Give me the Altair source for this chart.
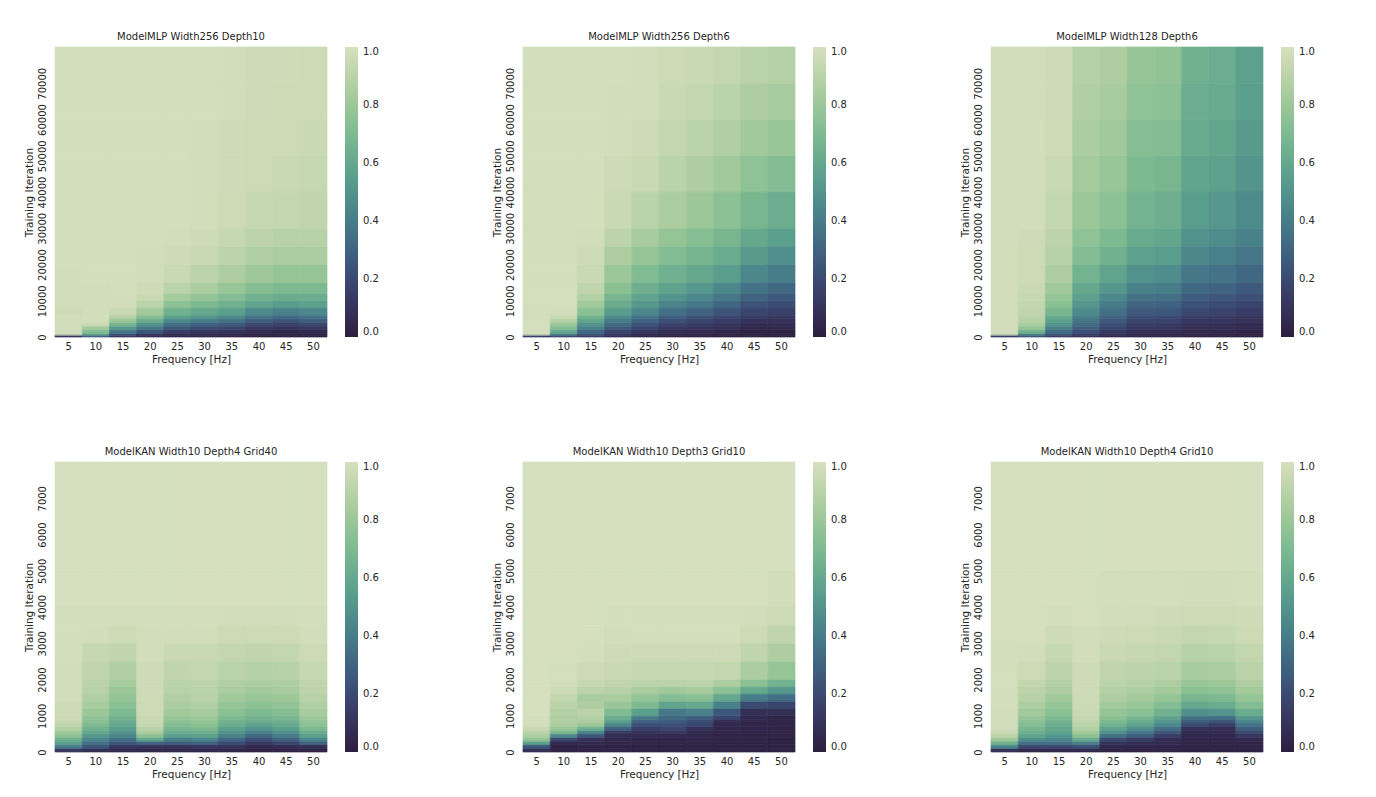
import math
import altair as alt
import pandas as pd

FREQS = [5, 10, 15, 20, 25, 30, 35, 40, 45, 50]

MLP_ITERS = [0, 500, 1000, 2000, 3000, 4000, 5000, 6000, 8000, 10000, 12000,
             15000, 20000, 25000, 30000, 40000, 50000, 60000, 70000, 80000]
KAN_ITERS = [0, 100, 200, 300, 400, 500, 600, 700, 800, 900, 1000, 1200,
             1400, 1600, 1800, 2000, 2500, 3000, 3500, 4000, 5000, 8000]

MLP_YTICKS = [0, 10000, 20000, 30000, 40000, 50000, 60000, 70000]
KAN_YTICKS = [0, 1000, 2000, 3000, 4000, 5000, 6000, 7000]
CBAR_TICKS = [0.0, 0.2, 0.4, 0.6, 0.8, 1.0]

TITLES = [
    "ModelMLP Width256 Depth10",
    "ModelMLP Width256 Depth6",
    "ModelMLP Width128 Depth6",
    "ModelKAN Width10 Depth4 Grid40",
    "ModelKAN Width10 Depth3 Grid10",
    "ModelKAN Width10 Depth4 Grid10",
]

# values per frequency (rows) and iteration interval (columns)
MLP_W256_D10 = [
    [0.10, 0.98, 0.98, 0.98, 0.98, 0.98, 0.98, 0.97, 0.98, 0.98, 0.98, 0.98, 0.99, 0.99, 0.99, 0.99, 0.99, 0.99, 0.99],
    [0.30, 0.60, 0.72, 0.82, 0.96, 0.98, 0.98, 0.98, 0.98, 0.98, 0.98, 0.99, 0.99, 0.99, 0.99, 0.99, 0.99, 0.99, 0.99],
    [0.12, 0.25, 0.38, 0.52, 0.68, 0.80, 0.88, 0.95, 0.98, 0.98, 0.99, 0.99, 0.99, 0.99, 0.99, 0.99, 0.99, 0.99, 0.99],
    [0.08, 0.12, 0.25, 0.38, 0.50, 0.62, 0.72, 0.82, 0.90, 0.95, 0.97, 0.98, 0.98, 0.99, 0.99, 0.99, 0.99, 0.99, 0.99],
    [0.05, 0.08, 0.15, 0.25, 0.35, 0.45, 0.55, 0.65, 0.75, 0.83, 0.90, 0.95, 0.97, 0.98, 0.99, 0.99, 0.99, 0.99, 0.99],
    [0.05, 0.07, 0.12, 0.20, 0.30, 0.40, 0.50, 0.60, 0.70, 0.78, 0.85, 0.91, 0.95, 0.97, 0.98, 0.98, 0.98, 0.99, 0.99],
    [0.03, 0.05, 0.10, 0.18, 0.27, 0.36, 0.45, 0.55, 0.65, 0.72, 0.79, 0.86, 0.91, 0.94, 0.96, 0.97, 0.97, 0.98, 0.98],
    [0.02, 0.03, 0.07, 0.12, 0.20, 0.28, 0.36, 0.46, 0.58, 0.65, 0.73, 0.81, 0.87, 0.91, 0.94, 0.96, 0.96, 0.97, 0.97],
    [0.02, 0.03, 0.05, 0.10, 0.17, 0.24, 0.32, 0.42, 0.54, 0.62, 0.70, 0.78, 0.85, 0.89, 0.93, 0.95, 0.96, 0.96, 0.97],
    [0.02, 0.03, 0.06, 0.12, 0.20, 0.28, 0.35, 0.45, 0.56, 0.63, 0.70, 0.78, 0.85, 0.89, 0.92, 0.94, 0.95, 0.96, 0.96],
]
MLP_W256_D6 = [
    [0.15, 0.99, 0.99, 0.99, 0.99, 0.99, 0.99, 0.99, 0.99, 0.99, 0.99, 0.99, 0.99, 0.99, 0.99, 0.99, 0.99, 0.99, 0.99],
    [0.20, 0.45, 0.60, 0.72, 0.80, 0.88, 0.94, 0.98, 0.99, 0.99, 0.99, 0.99, 0.99, 0.99, 0.99, 0.99, 0.99, 0.99, 0.99],
    [0.15, 0.25, 0.32, 0.42, 0.50, 0.58, 0.65, 0.74, 0.82, 0.88, 0.92, 0.95, 0.97, 0.98, 0.99, 0.99, 0.99, 0.99, 0.99],
    [0.08, 0.12, 0.18, 0.26, 0.33, 0.40, 0.46, 0.54, 0.62, 0.68, 0.74, 0.80, 0.86, 0.91, 0.95, 0.97, 0.98, 0.98, 0.99],
    [0.05, 0.07, 0.12, 0.18, 0.24, 0.30, 0.36, 0.44, 0.52, 0.58, 0.64, 0.71, 0.78, 0.84, 0.90, 0.95, 0.97, 0.98, 0.98],
    [0.03, 0.05, 0.08, 0.12, 0.17, 0.22, 0.27, 0.35, 0.43, 0.50, 0.57, 0.65, 0.72, 0.78, 0.85, 0.90, 0.93, 0.95, 0.96],
    [0.03, 0.04, 0.07, 0.10, 0.14, 0.18, 0.22, 0.30, 0.38, 0.45, 0.52, 0.60, 0.67, 0.73, 0.80, 0.86, 0.90, 0.93, 0.95],
    [0.02, 0.03, 0.05, 0.08, 0.11, 0.14, 0.18, 0.24, 0.31, 0.38, 0.45, 0.54, 0.62, 0.68, 0.75, 0.82, 0.87, 0.90, 0.93],
    [0.02, 0.02, 0.03, 0.05, 0.07, 0.10, 0.13, 0.18, 0.24, 0.30, 0.36, 0.45, 0.53, 0.60, 0.68, 0.76, 0.82, 0.86, 0.90],
    [0.02, 0.02, 0.03, 0.05, 0.07, 0.09, 0.12, 0.16, 0.21, 0.26, 0.32, 0.40, 0.48, 0.55, 0.63, 0.72, 0.79, 0.84, 0.88],
]
MLP_W128_D6 = [
    [0.15, 0.98, 0.98, 0.98, 0.98, 0.98, 0.98, 0.98, 0.98, 0.98, 0.98, 0.98, 0.98, 0.98, 0.98, 0.98, 0.98, 0.98, 0.98],
    [0.25, 0.45, 0.65, 0.78, 0.85, 0.88, 0.90, 0.92, 0.93, 0.94, 0.95, 0.96, 0.96, 0.97, 0.98, 0.98, 0.98, 0.98, 0.98],
    [0.15, 0.25, 0.33, 0.42, 0.50, 0.56, 0.61, 0.68, 0.74, 0.78, 0.82, 0.86, 0.89, 0.91, 0.93, 0.95, 0.96, 0.97, 0.97],
    [0.10, 0.15, 0.22, 0.28, 0.33, 0.37, 0.41, 0.46, 0.51, 0.55, 0.60, 0.66, 0.72, 0.76, 0.80, 0.83, 0.85, 0.87, 0.88],
    [0.06, 0.10, 0.14, 0.18, 0.22, 0.26, 0.30, 0.35, 0.40, 0.45, 0.51, 0.58, 0.65, 0.70, 0.75, 0.79, 0.82, 0.84, 0.86],
    [0.04, 0.06, 0.09, 0.12, 0.15, 0.18, 0.21, 0.26, 0.31, 0.36, 0.42, 0.49, 0.56, 0.61, 0.66, 0.70, 0.73, 0.76, 0.78],
    [0.04, 0.05, 0.08, 0.11, 0.14, 0.17, 0.20, 0.25, 0.30, 0.35, 0.40, 0.47, 0.54, 0.59, 0.64, 0.68, 0.72, 0.75, 0.77],
    [0.03, 0.04, 0.06, 0.08, 0.10, 0.12, 0.15, 0.19, 0.23, 0.27, 0.32, 0.38, 0.44, 0.49, 0.54, 0.58, 0.61, 0.63, 0.65],
    [0.03, 0.03, 0.05, 0.07, 0.09, 0.11, 0.13, 0.17, 0.21, 0.25, 0.30, 0.36, 0.42, 0.47, 0.52, 0.56, 0.59, 0.61, 0.63],
    [0.02, 0.03, 0.04, 0.06, 0.07, 0.09, 0.11, 0.14, 0.18, 0.22, 0.26, 0.32, 0.37, 0.42, 0.46, 0.50, 0.53, 0.55, 0.56],
]
KAN_W10_D4_G40 = [
    [0.12, 0.40, 0.55, 0.65, 0.75, 0.82, 0.88, 0.92, 0.95, 0.97, 0.97, 0.97, 0.98, 0.98, 0.98, 0.98, 0.99, 0.99, 0.99, 1.00, 1.00],
    [0.08, 0.25, 0.35, 0.45, 0.52, 0.60, 0.65, 0.70, 0.74, 0.77, 0.80, 0.84, 0.87, 0.89, 0.90, 0.92, 0.94, 0.98, 0.99, 1.00, 1.00],
    [0.05, 0.12, 0.25, 0.35, 0.45, 0.50, 0.55, 0.60, 0.63, 0.66, 0.70, 0.74, 0.78, 0.80, 0.83, 0.87, 0.92, 0.96, 0.99, 1.00, 1.00],
    [0.05, 0.10, 0.30, 0.60, 0.75, 0.85, 0.90, 0.93, 0.95, 0.95, 0.96, 0.96, 0.97, 0.97, 0.97, 0.97, 0.98, 0.98, 0.99, 1.00, 1.00],
    [0.05, 0.10, 0.28, 0.42, 0.55, 0.63, 0.68, 0.72, 0.76, 0.79, 0.82, 0.85, 0.87, 0.89, 0.90, 0.92, 0.95, 0.98, 0.99, 1.00, 1.00],
    [0.05, 0.12, 0.30, 0.45, 0.56, 0.64, 0.70, 0.74, 0.78, 0.81, 0.84, 0.87, 0.89, 0.90, 0.91, 0.93, 0.95, 0.98, 0.99, 1.00, 1.00],
    [0.05, 0.10, 0.20, 0.32, 0.42, 0.50, 0.56, 0.62, 0.66, 0.70, 0.74, 0.78, 0.82, 0.85, 0.87, 0.90, 0.93, 0.96, 0.98, 1.00, 1.00],
    [0.03, 0.05, 0.12, 0.22, 0.32, 0.42, 0.50, 0.56, 0.62, 0.66, 0.70, 0.75, 0.79, 0.82, 0.85, 0.88, 0.92, 0.96, 0.98, 1.00, 1.00],
    [0.03, 0.07, 0.18, 0.30, 0.40, 0.48, 0.55, 0.60, 0.65, 0.69, 0.73, 0.77, 0.81, 0.84, 0.86, 0.89, 0.93, 0.96, 0.98, 1.00, 1.00],
    [0.03, 0.08, 0.30, 0.45, 0.55, 0.62, 0.70, 0.75, 0.78, 0.81, 0.84, 0.87, 0.89, 0.91, 0.92, 0.94, 0.96, 0.98, 0.99, 1.00, 1.00],
]
KAN_W10_D3_G10 = [
    [0.08, 0.25, 0.55, 0.78, 0.85, 0.90, 0.95, 0.98, 0.99, 1.00, 1.00, 1.00, 1.00, 1.00, 1.00, 1.00, 1.00, 1.00, 1.00, 1.00, 1.00],
    [0.03, 0.03, 0.05, 0.20, 0.45, 0.70, 0.80, 0.85, 0.87, 0.86, 0.88, 0.90, 0.93, 0.96, 0.98, 0.99, 1.00, 1.00, 1.00, 1.00, 1.00],
    [0.03, 0.04, 0.05, 0.10, 0.25, 0.45, 0.65, 0.80, 0.86, 0.88, 0.90, 0.86, 0.84, 0.90, 0.94, 0.97, 0.99, 1.00, 1.00, 1.00, 1.00],
    [0.03, 0.03, 0.04, 0.05, 0.07, 0.15, 0.30, 0.45, 0.56, 0.63, 0.71, 0.79, 0.85, 0.89, 0.92, 0.95, 0.97, 0.98, 0.99, 1.00, 1.00],
    [0.02, 0.02, 0.03, 0.04, 0.06, 0.10, 0.15, 0.22, 0.30, 0.40, 0.55, 0.70, 0.78, 0.85, 0.90, 0.94, 0.97, 0.99, 0.99, 1.00, 1.00],
    [0.02, 0.02, 0.03, 0.04, 0.06, 0.12, 0.18, 0.22, 0.28, 0.32, 0.38, 0.58, 0.72, 0.82, 0.90, 0.94, 0.97, 0.99, 0.99, 1.00, 1.00],
    [0.02, 0.02, 0.03, 0.04, 0.05, 0.06, 0.10, 0.18, 0.22, 0.28, 0.42, 0.60, 0.74, 0.84, 0.90, 0.94, 0.97, 0.99, 0.99, 1.00, 1.00],
    [0.02, 0.02, 0.02, 0.03, 0.03, 0.04, 0.05, 0.06, 0.08, 0.18, 0.25, 0.42, 0.60, 0.75, 0.86, 0.93, 0.97, 0.99, 0.99, 1.00, 1.00],
    [0.02, 0.02, 0.02, 0.03, 0.03, 0.03, 0.04, 0.04, 0.05, 0.06, 0.08, 0.20, 0.40, 0.60, 0.75, 0.85, 0.92, 0.96, 0.98, 1.00, 1.00],
    [0.02, 0.02, 0.02, 0.02, 0.03, 0.03, 0.03, 0.04, 0.04, 0.04, 0.08, 0.18, 0.35, 0.52, 0.66, 0.78, 0.86, 0.92, 0.96, 0.98, 1.00],
]
KAN_W10_D4_G10 = [
    [0.10, 0.45, 0.65, 0.82, 0.90, 0.95, 0.98, 0.98, 0.98, 0.98, 0.98, 0.99, 0.99, 0.99, 0.99, 0.99, 0.99, 1.00, 1.00, 1.00, 1.00],
    [0.05, 0.20, 0.35, 0.48, 0.58, 0.64, 0.68, 0.72, 0.75, 0.78, 0.82, 0.86, 0.89, 0.91, 0.93, 0.96, 0.98, 1.00, 1.00, 1.00, 1.00],
    [0.05, 0.20, 0.35, 0.45, 0.52, 0.57, 0.60, 0.63, 0.66, 0.70, 0.74, 0.78, 0.82, 0.86, 0.88, 0.91, 0.94, 0.97, 0.99, 1.00, 1.00],
    [0.05, 0.22, 0.42, 0.62, 0.75, 0.83, 0.88, 0.90, 0.92, 0.94, 0.95, 0.96, 0.96, 0.97, 0.97, 0.97, 0.98, 0.98, 1.00, 1.00, 1.00],
    [0.03, 0.05, 0.10, 0.20, 0.35, 0.48, 0.58, 0.65, 0.70, 0.74, 0.78, 0.82, 0.86, 0.88, 0.90, 0.92, 0.95, 0.97, 0.98, 0.99, 1.00],
    [0.03, 0.05, 0.08, 0.15, 0.28, 0.38, 0.48, 0.56, 0.63, 0.68, 0.74, 0.79, 0.83, 0.86, 0.89, 0.91, 0.94, 0.96, 0.98, 0.99, 1.00],
    [0.03, 0.04, 0.06, 0.08, 0.15, 0.25, 0.35, 0.45, 0.52, 0.58, 0.65, 0.72, 0.78, 0.83, 0.86, 0.90, 0.93, 0.95, 0.97, 0.99, 1.00],
    [0.02, 0.03, 0.03, 0.04, 0.05, 0.06, 0.10, 0.20, 0.28, 0.36, 0.48, 0.60, 0.68, 0.74, 0.79, 0.84, 0.89, 0.93, 0.96, 0.98, 1.00],
    [0.02, 0.03, 0.03, 0.04, 0.05, 0.06, 0.08, 0.15, 0.25, 0.35, 0.50, 0.62, 0.70, 0.76, 0.80, 0.85, 0.90, 0.94, 0.96, 0.98, 1.00],
    [0.02, 0.03, 0.03, 0.06, 0.12, 0.20, 0.28, 0.36, 0.45, 0.52, 0.62, 0.72, 0.78, 0.83, 0.86, 0.90, 0.93, 0.96, 0.97, 0.99, 1.00],
]


def cubehelix_hex(v, start=0.5, rot=-0.75, hue=0.8, dark=0.15, light=0.85):
    x = dark + (light - dark) * v
    phi = 2 * math.pi * (start / 3 + rot * x)
    a = hue * x * (1 - x) / 2
    r = x + a * (-0.14861 * math.cos(phi) + 1.78277 * math.sin(phi))
    g = x + a * (-0.29227 * math.cos(phi) - 0.90649 * math.sin(phi))
    b = x + a * (1.97294 * math.cos(phi))
    to = lambda c: max(0, min(255, int(round(c * 255))))
    return "#{:02x}{:02x}{:02x}".format(to(r), to(g), to(b))


CMAP = [cubehelix_hex(i / 20) for i in range(21)]
FONT = "DejaVu Sans"
TXT = "#262626"


def panel(title, values, iters, ymax, yticks):
    rows = []
    for fi, f in enumerate(FREQS):
        for k in range(len(iters) - 1):
            rows.append({"freq": f, "it0": iters[k], "it1": iters[k + 1], "v": values[fi][k]})
    df = pd.DataFrame(rows)
    cscale = alt.Scale(domain=[0, 1], range=CMAP, interpolate="rgb")
    xenc = alt.X("freq:O", sort=FREQS, title="Frequency [Hz]",
                 scale=alt.Scale(paddingInner=0, paddingOuter=0),
                 axis=alt.Axis(labelAngle=0, ticks=False, domain=False, labelPadding=4,
                               titlePadding=3))
    yenc = alt.Y("it0:Q", title="Training Iteration",
                 scale=alt.Scale(domain=[0, ymax], nice=False, zero=True),
                 axis=alt.Axis(values=yticks, format="d", labelAngle=270, labelAlign="center",
                               labelBaseline="bottom", ticks=False, domain=False,
                               labelPadding=8, titlePadding=3, grid=False))
    base = alt.Chart(df)
    fill = base.mark_rect().encode(
        x=xenc, y=yenc, y2="it1:Q",
        color=alt.Color("v:Q", scale=cscale,
                        legend=alt.Legend(title=None, values=CBAR_TICKS, format=".1f",
                                          gradientLength=290, gradientThickness=13,
                                          labelOverlap=False, offset=18, labelOffset=5,
                                          labelBaseline="middle")),
    )
    edge = base.transform_calculate(vs="datum.v").mark_rect(filled=False, strokeWidth=0.7).encode(
        x=xenc, y=yenc, y2="it1:Q",
        stroke=alt.Stroke("vs:Q", scale=cscale, legend=None),
    )
    return (
        alt.layer(fill, edge)
        .resolve_scale(stroke="independent")
        .properties(width=272, height=290,
                    title=alt.TitleParams(title, fontSize=10, fontWeight="normal", font=FONT,
                                          color=TXT, offset=5))
    )


p = [
    panel(TITLES[0], MLP_W256_D10, MLP_ITERS, 80000, MLP_YTICKS),
    panel(TITLES[1], MLP_W256_D6, MLP_ITERS, 80000, MLP_YTICKS),
    panel(TITLES[2], MLP_W128_D6, MLP_ITERS, 80000, MLP_YTICKS),
    panel(TITLES[3], KAN_W10_D4_G40, KAN_ITERS, 8000, KAN_YTICKS),
    panel(TITLES[4], KAN_W10_D3_G10, KAN_ITERS, 8000, KAN_YTICKS),
    panel(TITLES[5], KAN_W10_D4_G10, KAN_ITERS, 8000, KAN_YTICKS),
]

row1 = alt.hconcat(p[0], p[1], p[2], spacing=113).resolve_scale(color="independent", stroke="independent")
row2 = alt.hconcat(p[3], p[4], p[5], spacing=113).resolve_scale(color="independent", stroke="independent")

chart = (
    alt.vconcat(row1, row2, spacing=81)
    .resolve_scale(color="independent", stroke="independent")
    .properties(padding={"top": 23, "left": 16, "right": 5, "bottom": 5}, background="white")
    .configure_view(stroke=None)
    .configure_axis(labelFont=FONT, titleFont=FONT, labelFontSize=10, titleFontSize=10.5,
                    titleFontWeight="normal", labelColor=TXT, titleColor=TXT)
    .configure_legend(labelFont=FONT, labelFontSize=10, labelColor=TXT, gradientStrokeWidth=0,
                      padding=0)
)

chart.save("out.html", embed_options={"renderer": "svg", "actions": False})
